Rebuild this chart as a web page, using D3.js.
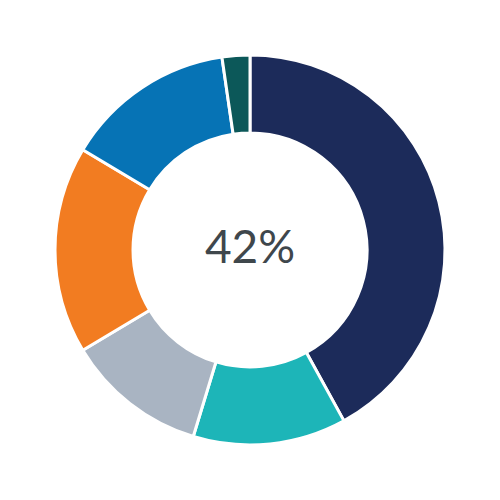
<!DOCTYPE html>
<html>
<head>
<meta charset="utf-8">
<script src="https://cdn.jsdelivr.net/npm/d3@7"></script>
<style>
  body { margin: 0; background: #fff; }
</style>
</head>
<body>
<div id="chart"></div>
<script>
const categories = ["A", "B", "C", "D", "E", "F"];
const values = [42, 12.7, 11.7, 17.2, 14.1, 2.3];
const colors = ["#1c2b5a", "#1db5b8", "#a9b4c2", "#f27c21", "#0673b5", "#0c5859"];
const centerLabel = "42%";

const width = 500;
const height = 500;
const outerR = 195;
const innerR = 117;

const svg = d3.select("#chart").append("svg")
    .attr("width", width)
    .attr("height", height);

const g = svg.append("g")
    .attr("transform", `translate(${width / 2},${height / 2})`);

const pie = d3.pie().sort(null).value(d => d);
const arc = d3.arc().innerRadius(innerR).outerRadius(outerR);

g.selectAll("path").data(pie(values)).enter().append("path")
    .attr("d", arc)
    .attr("fill", (d, i) => colors[i])
    .attr("stroke", "#fff")
    .attr("stroke-width", 3);

g.append("text")
    .attr("x", 0)
    .attr("y", 13)
    .attr("text-anchor", "middle")
    .attr("font-family", "Lato, 'Open Sans', sans-serif")
    .attr("font-size", 46)
    .attr("fill", "#3f474c")
    .text(centerLabel);
</script>
</body>
</html>
